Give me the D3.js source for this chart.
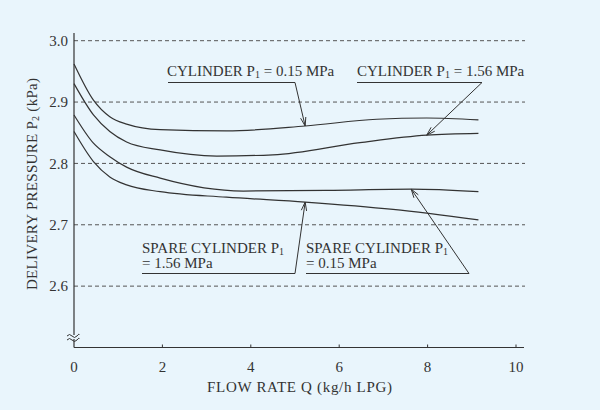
<!DOCTYPE html>
<html>
<head>
<meta charset="utf-8">
<script src="https://cdn.jsdelivr.net/npm/d3@7"></script>
<style>
  body { margin: 0; background: #e9f5fc; }
  svg text { font-family: "Liberation Serif", "DejaVu Serif", serif; fill: #333; }
</style>
</head>
<body>
<script>
// Daten
const xTicks = [0, 2, 4, 6, 8, 10]
const yTicks = [2.6, 2.7, 2.8, 2.9, 3.0]

const cylLowQ  = [0, 0.44, 0.81, 1.19, 1.95, 3.45, 5.23, 6.85, 7.98, 9.15]
const cylLowP  = [2.962, 2.903, 2.876, 2.864, 2.855, 2.853, 2.861, 2.872, 2.874, 2.871]
const cylHighQ = [0, 0.44, 0.81, 1.19, 1.95, 3.23, 4.5, 6.47, 7.98, 9.15]
const cylHighP = [2.930, 2.879, 2.852, 2.835, 2.822, 2.812, 2.814, 2.834, 2.846, 2.849]
const spareLowQ  = [0, 0.44, 0.81, 1.19, 1.95, 3.83, 5.72, 7.63, 9.15]
const spareLowP  = [2.879, 2.833, 2.811, 2.794, 2.776, 2.755, 2.756, 2.758, 2.754]
const spareHighQ = [0, 0.44, 0.81, 1.19, 1.95, 3.45, 5.23, 7.22, 9.15]
const spareHighP = [2.852, 2.803, 2.778, 2.765, 2.754, 2.745, 2.737, 2.725, 2.708]

const width = 600
const height = 410

var svg = d3.select("body").append("svg")
    .attr("width", width)
    .attr("height", height)

var x = d3.scaleLinear().domain([0, 10]).range([74, 516])
var y = d3.scaleLinear().domain([2.5, 3.0]).range([347.5, 40.7])

//Gridlines
svg.append("g")
    .selectAll("line")
    .data(yTicks)
    .enter()
    .append("line")
        .attr("x1", x(0)).attr("x2", 525)
        .attr("y1", d => y(d)).attr("y2", d => y(d))
        .attr("stroke", "#555")
        .attr("stroke-width", 1)
        .attr("stroke-dasharray", "4,3")

//Y Achse
svg.append("line")
    .attr("x1", x(0)).attr("x2", x(0))
    .attr("y1", 33).attr("y2", y(2.5))
    .attr("stroke", "#333").attr("stroke-width", 1.2)

//X Achse
svg.append("line")
    .attr("x1", x(0)).attr("x2", 524)
    .attr("y1", y(2.5)).attr("y2", y(2.5))
    .attr("stroke", "#333").attr("stroke-width", 1.2)

svg.append("g")
    .selectAll("line")
    .data(xTicks.slice(1))
    .enter()
    .append("line")
        .attr("x1", d => x(d)).attr("x2", d => x(d))
        .attr("y1", y(2.5)).attr("y2", y(2.5) - 3)
        .attr("stroke", "#333")

//Achsenbruch
var by = 336
svg.append("rect")
    .attr("x", x(0) - 2).attr("y", by - 1).attr("width", 4).attr("height", 4)
    .attr("fill", "#e9f5fc")
var wave = (yy) => `M${x(0)-7},${yy+1} q2.5,-3 5,0 t5,0 t2,-1`
svg.append("path").attr("d", wave(by - 1)).attr("fill", "none").attr("stroke", "#333")
svg.append("path").attr("d", wave(by + 3)).attr("fill", "none").attr("stroke", "#333")

//Tick Labels
svg.append("g")
    .selectAll("text")
    .data(yTicks)
    .enter()
    .append("text")
        .attr("x", 68)
        .attr("y", d => y(d))
        .attr("dy", "0.35em")
        .attr("text-anchor", "end")
        .style("font-size", "15px")
        .text(d => d.toFixed(1))

svg.append("g")
    .selectAll("text")
    .data(xTicks)
    .enter()
    .append("text")
        .attr("x", d => x(d))
        .attr("y", 372)
        .attr("text-anchor", "middle")
        .style("font-size", "15px")
        .text(d => d)

//Achsentitel
svg.append("text")
    .attr("x", 207).attr("y", 392)
    .attr("textLength", 185)
    .attr("lengthAdjust", "spacing")
    .style("font-size", "15px")
    .text("FLOW RATE Q (kg/h LPG)")

var yt = svg.append("text")
    .attr("transform", "translate(37,290) rotate(-90)")
    .attr("textLength", 212)
    .attr("lengthAdjust", "spacing")
    .style("font-size", "15px")
yt.append("tspan").text("DELIVERY PRESSURE P")
yt.append("tspan").attr("dy", 2).style("font-size", "10px").text("2")
yt.append("tspan").attr("dy", -2).text(" (kPa)")

//Kurven
var line = d3.line()
    .x(d => x(d[0]))
    .y(d => y(d[1]))
    .curve(d3.curveMonotoneX)

var curves = [
    [cylLowQ, cylLowP],
    [cylHighQ, cylHighP],
    [spareLowQ, spareLowP],
    [spareHighQ, spareHighP]
]

svg.append("g")
    .selectAll("path")
    .data(curves)
    .enter()
    .append("path")
        .attr("d", d => line(d[0].map((q, i) => [q, d[1][i]])))
        .attr("fill", "none")
        .attr("stroke", "#333")
        .attr("stroke-width", 1.2)

//Beschriftungen mit Pfeilen
var notes = [
    { lines: ["CYLINDER P|1| = 0.15 MPa"], tx: 167, ty: 76, u0: 168, u1: 295, uy: 82.5, tip: [cylLowQ[6], cylLowP[6]] },
    { lines: ["CYLINDER P|1| = 1.56 MPa"], tx: 357, ty: 76, u0: 357, u1: 482, uy: 82.5, tip: [cylHighQ[8], cylHighP[8]] },
    { lines: ["SPARE CYLINDER P|1|", "= 1.56 MPa"], tx: 142, ty: 253, u0: 142, u1: 295, uy: 273.5, tip: [spareHighQ[6], spareHighP[6]] },
    { lines: ["SPARE CYLINDER P|1|", "= 0.15 MPa"], tx: 306, ty: 253, u0: 306, u1: 469, uy: 273.5, tip: [spareLowQ[7], spareLowP[7]] }
]

notes.forEach(n => {
    n.lines.forEach((l, i) => {
        var t = svg.append("text")
            .attr("x", n.tx).attr("y", n.ty + i * 15)
            .style("font-size", "15px")
        l.split("|").forEach((part, j) => {
            if (j == 1) {
                t.append("tspan").attr("dy", 1.5).style("font-size", "10px").text(part)
            } else if (j == 2) {
                t.append("tspan").attr("dy", -1.5).text(part)
            } else {
                t.append("tspan").text(part)
            }
        })
    })
    var tx = x(n.tip[0]), ty = y(n.tip[1])
    svg.append("path")
        .attr("d", `M${n.u0},${n.uy} L${n.u1},${n.uy} L${tx},${ty}`)
        .attr("fill", "none").attr("stroke", "#333").attr("stroke-width", 1)
    // Pfeilspitze
    var ang = Math.atan2(ty - n.uy, tx - n.u1)
    var len = 9, spread = 0.3
    var p1 = [tx - len * Math.cos(ang - spread), ty - len * Math.sin(ang - spread)]
    var p2 = [tx - len * Math.cos(ang + spread), ty - len * Math.sin(ang + spread)]
    svg.append("path")
        .attr("d", `M${p1[0]},${p1[1]} L${tx},${ty} L${p2[0]},${p2[1]}`)
        .attr("fill", "none").attr("stroke", "#333").attr("stroke-width", 1)
})
</script>
</body>
</html>
